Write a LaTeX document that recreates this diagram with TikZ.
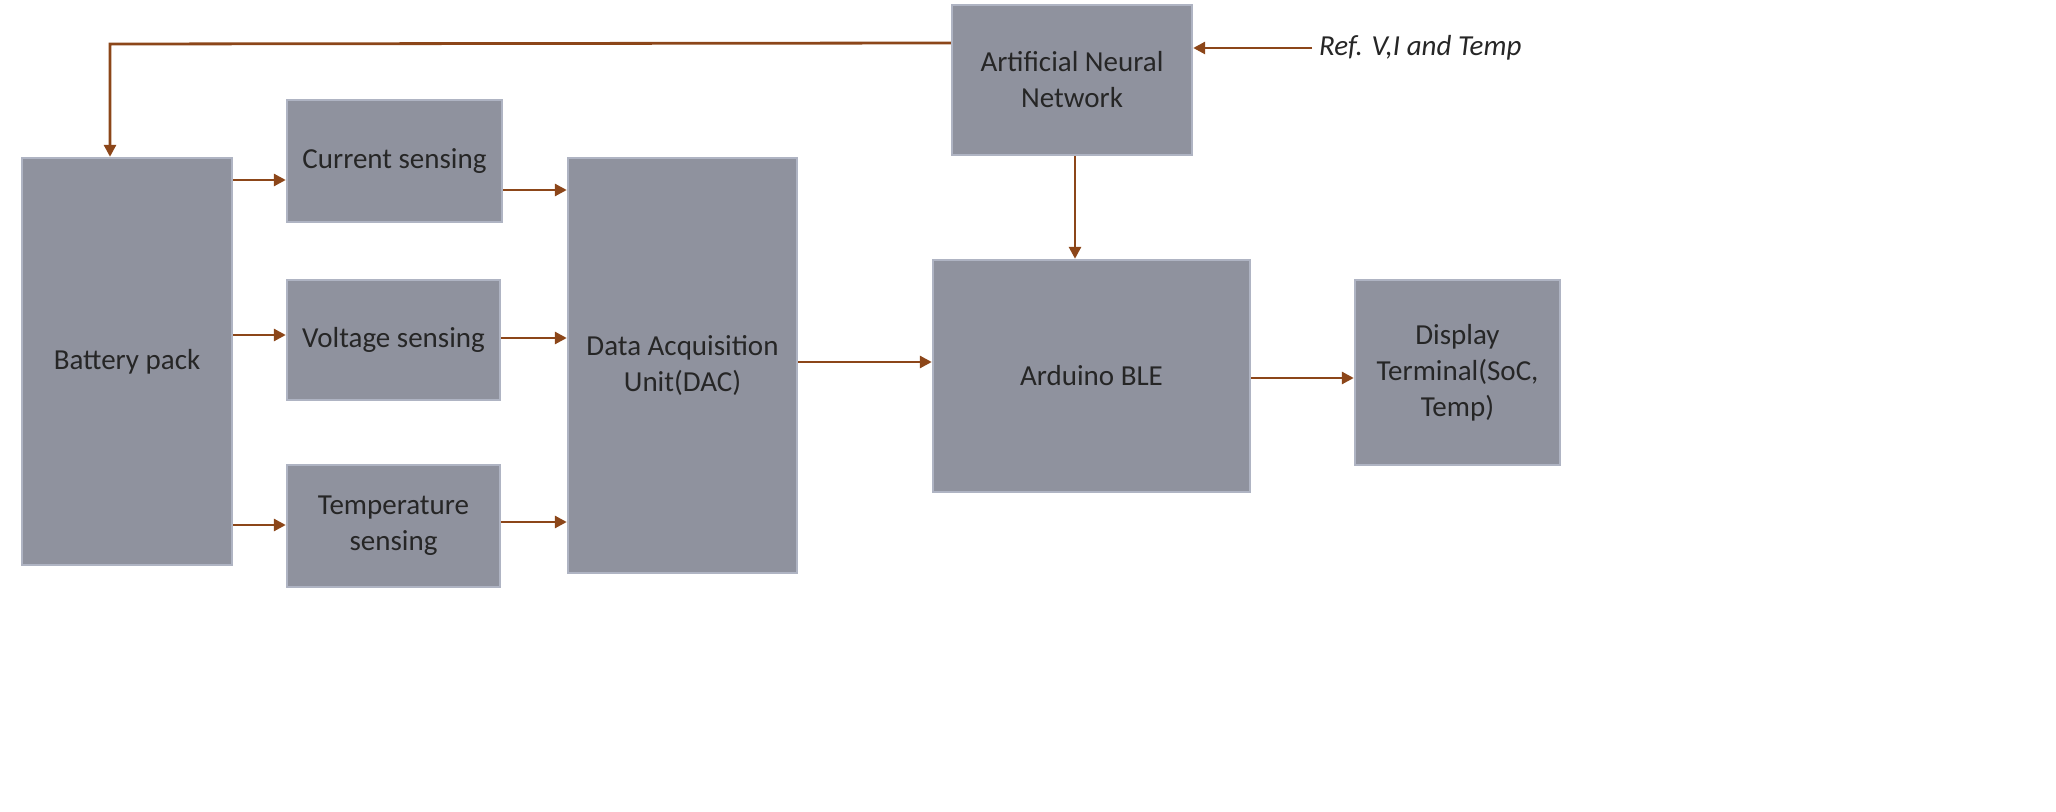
\documentclass[tikz,border=0pt]{standalone}
\usepackage{fontspec}
\setmainfont{Carlito}
\usetikzlibrary{arrows.meta}
\definecolor{boxfill}{RGB}{143,146,158}
\definecolor{boxline}{RGB}{175,180,195}
\definecolor{arr}{RGB}{140,70,25}
\begin{document}
\begin{tikzpicture}[x=0.5pt,y=-0.5pt,
  box/.style={draw=boxline,line width=1.2pt,fill=boxfill,align=center,font=\fontsize{14.5}{18}\selectfont,text=black!85,inner sep=0pt},
  ar/.style={draw=arr,line width=1.4pt,-{Triangle[length=6pt,width=6pt]}}]
\useasboundingbox (0,0) rectangle (2056,812);
\newcommand\bx[6]{\node[box,minimum width={(#4-#2)*0.5pt},minimum height={(#5-#3)*0.5pt}] (#1) at ({(#2+#4)/2},{(#3+#5)/2}) {#6};}
\bx{bat}{22}{158}{232}{565}{Battery pack}
\bx{cur}{287}{100}{502}{222}{Current sensing}
\bx{vol}{287}{280}{500}{400}{Voltage sensing}
\bx{tmp}{287}{465}{500}{587}{Temperature\\sensing}
\bx{dac}{568}{158}{797}{573}{Data Acquisition\\Unit(DAC)}
\bx{ann}{952}{5}{1192}{155}{Artificial Neural\\Network}
\bx{ard}{933}{260}{1250}{492}{Arduino BLE}
\bx{dis}{1355}{280}{1560}{465}{Display\\Terminal(SoC,\\Temp)}
\node[font=\fontsize{14.5}{18}\selectfont\itshape,anchor=west,text=black!85] (ref) at (1312,48) {Ref. V,I and Temp};
\coordinate (c1) at (110,44);
\draw[ar] (ann.west|-0,43) -- (c1) -- (c1|-bat.north);
\draw[ar] (ref.west) -- (ann.east|-ref.west);
\draw[ar] (bat.east|-0,180) -- (cur.west|-0,180);
\draw[ar] (bat.east|-0,335) -- (vol.west|-0,335);
\draw[ar] (bat.east|-0,525) -- (tmp.west|-0,525);
\draw[ar] (cur.east|-0,190) -- (dac.west|-0,190);
\draw[ar] (vol.east|-0,338) -- (dac.west|-0,338);
\draw[ar] (tmp.east|-0,522) -- (dac.west|-0,522);
\draw[ar] (dac.east|-0,362) -- (ard.west|-0,362);
\draw[ar] (ard.east|-0,378) -- (dis.west|-0,378);
\draw[ar] (ann.south-|1075,0) -- (ard.north-|1075,0);
\end{tikzpicture}
\end{document}
